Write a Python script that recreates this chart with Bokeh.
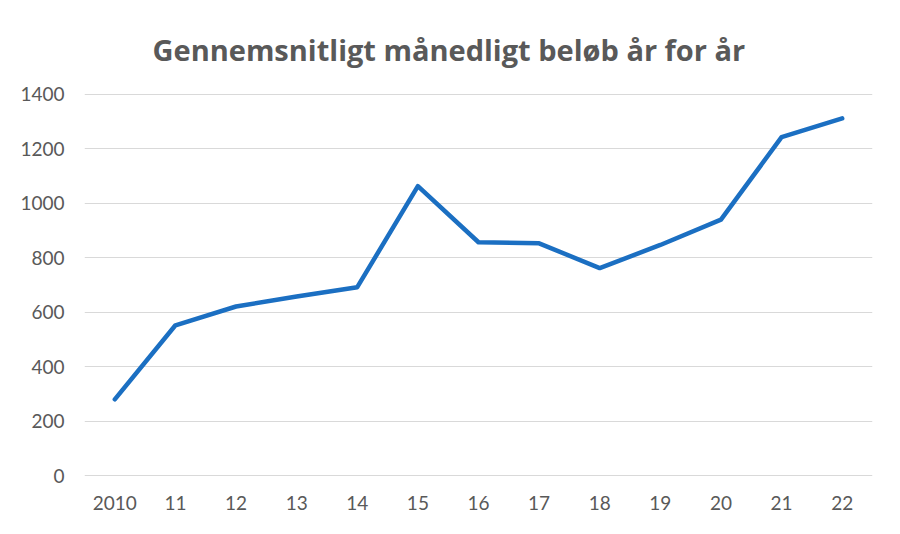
from bokeh.plotting import figure
from bokeh.models import FactorRange, Range1d, FixedTicker
from bokeh.embed import file_html
from bokeh.resources import INLINE

title_text = "Gennemsnitligt månedligt beløb år for år"
years = ["2010", "11", "12", "13", "14", "15", "16", "17", "18", "19", "20", "21", "22"]
amounts = [280, 552, 621, 658, 692, 1063, 857, 853, 762, 847, 940, 1243, 1312]
y_ticks = [0, 200, 400, 600, 800, 1000, 1200, 1400]

FONT = "Lato"
GREY = "#595959"

p = figure(
    width=884, height=518,
    x_range=FactorRange(*years),
    y_range=Range1d(-7, 1407),
    output_backend="svg", toolbar_location=None,
    min_border_left=84, min_border_right=12,
    min_border_top=92, min_border_bottom=41,
)

p.title.text = title_text
p.title.align = "left"
p.title.text_font = "Open Sans"
p.title.text_font_size = "29px"
p.title.text_font_style = "bold"
p.title.text_color = GREY
p.title.text_line_height = 0.6
p.title.standoff = 47
p.title.offset = 68

p.line(years, amounts, line_color="#1b6fc2", line_width=4.5, line_join="round", line_cap="round")

p.outline_line_color = None
p.xgrid.grid_line_color = None
p.ygrid.grid_line_color = "#d9d9d9"
p.ygrid.grid_line_width = 1
p.yaxis.ticker = FixedTicker(ticks=y_ticks)

for ax in (p.xaxis, p.yaxis):
    ax.axis_line_color = None
    ax.major_tick_line_color = None
    ax.minor_tick_line_color = None
    ax.major_tick_out = 0
    ax.major_tick_in = 0
    ax.major_label_text_font = FONT
    ax.major_label_text_font_size = "19px"
    ax.major_label_text_color = GREY

p.xaxis.major_label_standoff = 18
p.yaxis.major_label_standoff = 20

open("out.html", "w").write(file_html(p, INLINE))
